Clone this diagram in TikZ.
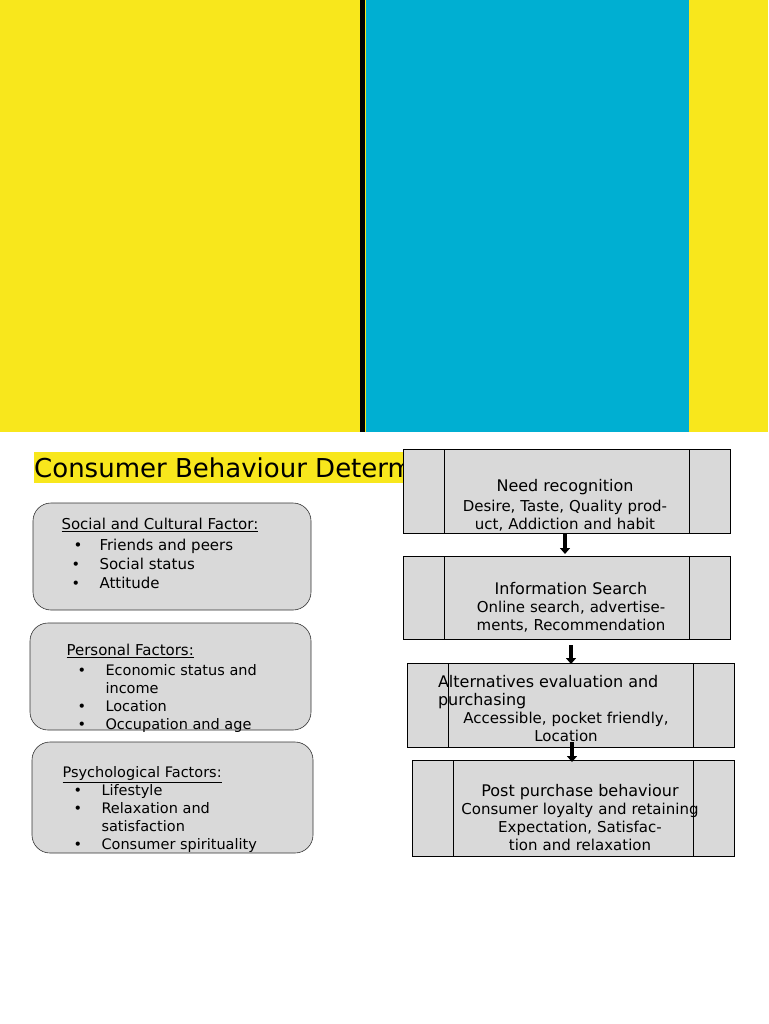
\documentclass[tikz,border=0pt]{standalone}
\usepackage{fontspec}
\setmainfont{DejaVu Sans}
\usetikzlibrary{arrows.meta}
\definecolor{yel}{HTML}{F8E71C}
\definecolor{cya}{HTML}{00AFD2}
\definecolor{gr}{HTML}{D9D9D9}
\tikzset{
 rbox/.style={fill=gr,draw=black!80,rounded corners=18pt,line width=0.6pt},
 pbox/.style={fill=gr,draw=black,line width=0.6pt},
 txt/.style={font=\fontsize{15}{18}\selectfont,align=center,text width=240pt},
 ltxt/.style={font=\fontsize{15}{19}\selectfont,align=left,anchor=north west},
 arr/.style={-{Triangle[length=6pt,width=10pt]},line width=4pt}
}
\begin{document}
\begin{tikzpicture}[x=1pt,y=-1pt]
\useasboundingbox (0,0) rectangle (768,1024);
\fill[white] (0,0) rectangle (768,1024);
\fill[yel] (0,0) rectangle (768,432);
\fill[black] (360,0) rectangle (365,432);
\fill[cya] (366,0) rectangle (689,432);
% title
\fill[yel] (34,452) rectangle (403,483);
\node[anchor=west,inner sep=0,font=\fontsize{26}{30}\selectfont] (title) at (34,468) {Consumer Behaviour Determinants};
% left boxes
\draw[rbox] (33,503) rectangle (311,610);
\node[ltxt] (s1) at (58,515) {\underline{Social and Cultural Factor:}};
\node[ltxt] (s1b) at (68,536) {\makebox[28pt][l]{\hspace{2pt}\textbullet}Friends and peers\\\makebox[28pt][l]{\Large\textbullet}Social status\\\makebox[28pt][l]{\Large\textbullet}Attitude};
\draw[rbox] (30,623) rectangle (311,730);
\node[ltxt] (s2) at (63,641) {\underline{Personal Factors:}};
\node[ltxt,font=\fontsize{14.5}{18}\selectfont] (s2b) at (74,661) {\makebox[28pt][l]{\Large\textbullet}Economic status and\\\makebox[28pt][l]{}income\\\makebox[28pt][l]{\Large\textbullet}Location\\\makebox[28pt][l]{\Large\textbullet}Occupation and age};
\draw[rbox] (32,742) rectangle (313,853);
\node[ltxt,font=\fontsize{14.5}{18}\selectfont] (s3) at (59,763) {\underline{Psychological Factors:}};
\node[ltxt,font=\fontsize{14.5}{18}\selectfont] (s3b) at (70,781) {\makebox[28pt][l]{\Large\textbullet}Lifestyle\\\makebox[28pt][l]{\Large\textbullet}Relaxation and\\\makebox[28pt][l]{}satisfaction\\\makebox[28pt][l]{\Large\textbullet}Consumer spirituality};
% right boxes
\draw[pbox] (403,449) rectangle (730,533); \draw (444,449)--(444,533) (689,449)--(689,533);
\node[txt] (p1) at (565,505) {{\fontsize{16}{19}\selectfont Need recognition}\\[2pt]Desire, Taste, Quality product, Addiction and habit};
\draw[pbox] (403,556) rectangle (730,639); \draw (444,556)--(444,639) (689,556)--(689,639);
\node[txt] (p2) at (571,607) {{\fontsize{16}{19}\selectfont Information Search}\\Online search, advertisements, Recommendation};
\draw[pbox] (407,663) rectangle (734,747); \draw (448,663)--(448,747) (693,663)--(693,747);
\node[txt,text width=250pt] (p3) at (566,709) {\hspace*{-3pt}{\fontsize{16}{19}\selectfont Alternatives evaluation and}\hfill\mbox{}\\\raggedright\hspace*{-3pt}{\fontsize{16}{19}\selectfont purchasing}\\\centering Accessible, pocket friendly,\\ Location};
\draw[pbox] (412,760) rectangle (734,856); \draw (453,760)--(453,856) (693,760)--(693,856);
\node[txt] (p4) at (580,818) {{\fontsize{16}{19}\selectfont Post purchase behaviour}\\Consumer loyalty and retaining\\Expectation, Satisfaction and relaxation};
% arrows
\coordinate (a1s) at (565,534); \coordinate (a1e) at (565,554);
\coordinate (a2s) at (571,645); \coordinate (a2e) at (571,664);
\coordinate (a3s) at (572,742); \coordinate (a3e) at (572,762);
\draw[arr] (a1s)--(a1e);
\draw[arr] (a2s)--(a2e);
\draw[arr] (a3s)--(a3e);
\end{tikzpicture}
\end{document}
